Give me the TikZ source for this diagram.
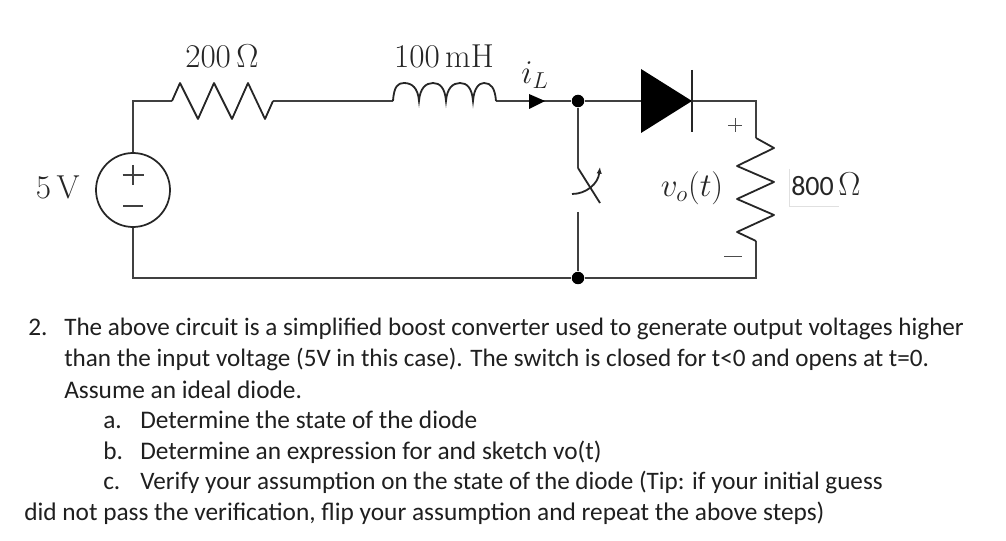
\documentclass[tikz,border=0pt]{standalone}
\usepackage[no-math]{fontspec}
\usetikzlibrary{arrows.meta}
\setmainfont{Carlito}
\newcommand{\cmsize}{\fontsize{23}{28}\selectfont}
\begin{document}
\begin{tikzpicture}[x=0.75pt,y=-0.75pt,
  wire/.style={line width=1.7pt,draw=black!75,line join=miter},
  thin wire/.style={line width=1.35pt,draw=black!85},
  dotnode/.style={circle,fill=black,inner sep=0pt,minimum size=12.5*0.75pt},
  cmlabel/.style={font=\cmsize,text=black!85,inner sep=0pt},
  body/.style={font=\fontsize{19}{22}\selectfont,text=black!88,anchor=base west,inner sep=0pt},
  bodytight/.style={body,font=\fontsize{18.85}{22}\selectfont}]
\useasboundingbox (0,0) rectangle (1006,541);
\fill[white] (0,0) rectangle (1006,541);
% corner coordinates
\coordinate (tl) at (133,101);
\coordinate (bl) at (133,278);
\coordinate (tr) at (756,101);
\coordinate (br) at (756,278);
\coordinate (r1a) at (172,101);
\coordinate (r1b) at (273,101);
\coordinate (la) at (393,101);
\coordinate (lb) at (496,101);
\coordinate (swa) at (578,168);
\coordinate (swb) at (600,203);
\coordinate (swc) at (578,212);
\coordinate (r2a) at (756,138);
\coordinate (r2b) at (756,241);
\coordinate (da) at (641,101);
\coordinate (dc) at (692,101);
\node[dotnode] (nt) at (578,101) {};
\node[dotnode] (nb) at (578,278) {};
\node[circle,draw=black!85,line width=1.3pt,minimum size=74*0.75pt,inner sep=0pt] (src) at (133,190) {};
% wires
\draw[wire] (src.north) -- (tl) -- (r1a);
\draw[wire] (src.south) -- (bl) -- (nb);
\draw[wire] (nb) -- (br) -- (r2b);
\draw[wire] (r1b) -- (la);
\draw[wire] (lb) -- (nt);
\draw[wire] (nt) -- (da);
\draw[wire] (dc) -- (tr) -- (r2a);
\draw[wire] (nt) -- (swa);
\draw[wire] (swc) -- (nb);
% resistor 1
\draw[thin wire,line join=round] (r1a) -- (180,83) -- (198,119) -- (214,83) -- (232,119) -- (248,83) -- (265,119) -- (r1b);
% inductor
\draw[thin wire] (la) .. controls (394,86) and (398,83) .. (404,83)
  .. controls (412,83) and (418,88) .. (419,101)
  .. controls (420,88) and (426,83) .. (433,83)
  .. controls (440,83) and (445,88) .. (446,101)
  .. controls (447,88) and (453,83) .. (460,83)
  .. controls (467,83) and (472,88) .. (473,101)
  .. controls (474,88) and (479,83) .. (484,83)
  .. controls (491,83) and (495,88) .. (lb);
% current arrow
\fill[black] (529,94) -- (545,101) -- (529,109) -- cycle;
% diode
\fill[black] (641,69) -- (692,101) -- (641,133) -- cycle;
\draw[thin wire] (692,70) -- (692,132);
% switch
\draw[thin wire] (swa) -- (swb);
\draw[thin wire,-{Latex[length=5pt,width=4pt]}] (572,194) .. controls (586,194) and (598,184) .. (600,167);
% resistor 2
\draw[thin wire,line join=round] (r2a) -- (774,148) -- (737,166) -- (774,182) -- (737,199) -- (774,215) -- (737,232) -- (r2b);
% source signs
\draw[line width=0.9pt,draw=black!75] (122.5,175) -- (143.5,175) (133,165) -- (133,185);
\draw[line width=0.9pt,draw=black!75] (123,206) -- (143,206);
% output signs
\draw[line width=0.7pt,draw=black!70] (728,125) -- (742,125) (735,118) -- (735,132);
\draw[line width=0.7pt,draw=black!70] (724,256) -- (742,256);
% faint box edge
\draw[line width=0.5pt,draw=black!12] (789,169) -- (789,206) -- (839,206);
% labels
\node[cmlabel,anchor=base] (l200) at (222,68) {$200\,\Omega$};
\node[cmlabel,anchor=base] (l100) at (444,68) {$100\,\mathrm{mH}$};
\node[cmlabel,anchor=base] (l5v) at (58,199) {$5\,\mathrm{V}$};
\node[cmlabel,anchor=base] (liL) at (535,84) {$i_L$};
\node[cmlabel,anchor=base] (lvo) at (692,197) {$v_o(t)$};
\node[anchor=base west,inner sep=0pt,text=black!85,font=\fontsize{21}{25}\selectfont] (l800) at (791,196) {800$\,$\cmsize$\Omega$};
% body text
\node[body] (t0) at (28,336) {2.};
\node[bodytight] (t1) at (64,336) {The above circuit is a simplified boost converter used to generate output voltages higher};
\node[bodytight] (t2) at (64,367) {than the input voltage (5V in this case). The switch is closed for t<0 and opens at t=0.};
\node[body] (t3) at (64,398) {Assume an ideal diode.};
\node[body] (ta0) at (103,428) {a.};
\node[body] (ta) at (140,428) {Determine the state of the diode};
\node[body] (tb0) at (103,459) {b.};
\node[body] (tb) at (140,459) {Determine an expression for and sketch vo(t)};
\node[body] (tc0) at (103,489) {c.};
\node[bodytight] (tc) at (140,489) {Verify your assumption on the state of the diode (Tip: if your initial guess};
\node[body] (td) at (24,520) {did not pass the verification, flip your assumption and repeat the above steps)};
\end{tikzpicture}
\end{document}
